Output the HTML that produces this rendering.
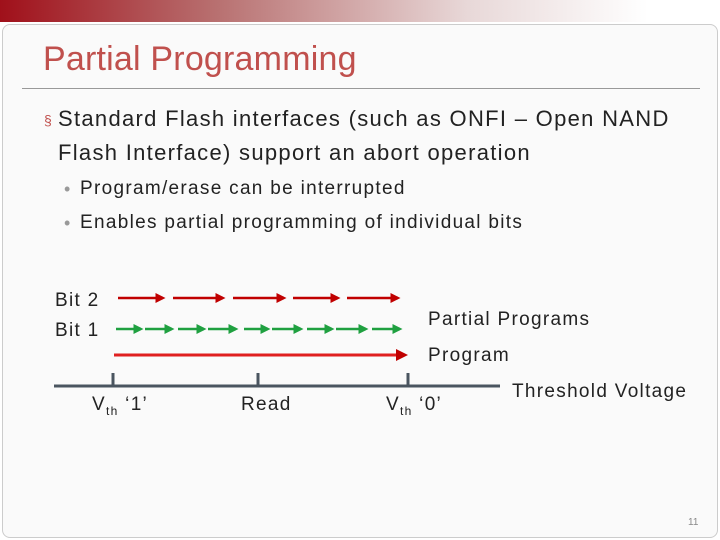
<!DOCTYPE html>
<html><head><meta charset="utf-8"><style>
body{margin:0;width:720px;height:540px;background:#fff;font-family:"Liberation Sans",sans-serif;position:relative;overflow:hidden}
.t{position:absolute;white-space:nowrap;color:#222;line-height:1}
.s{font-size:19px;letter-spacing:1.3px}
</style></head><body>
<div style="position:absolute;left:0;top:0;width:720px;height:22px;background:linear-gradient(90deg,#a0101a 0%,#b87070 30%,#e8d8d8 65%,#fff 90%)"></div>
<div style="position:absolute;left:2px;top:24px;width:714px;height:512px;border:1px solid #ccc;border-radius:8px;background:#fafafa"></div>
<div class="t" style="left:43px;top:42px;font-size:34px;color:#c0504d;letter-spacing:0.2px">Partial Programming</div>
<div style="position:absolute;left:22px;top:88px;width:678px;height:1px;background:#999"></div>
<div class="t" style="left:44px;top:113px;font-size:14px;color:#c0504d">§</div>
<div class="t" style="left:58px;top:108px;font-size:22px;letter-spacing:1.3px">Standard Flash interfaces (such as ONFI – Open NAND</div>
<div class="t" style="left:58px;top:142px;font-size:22px;letter-spacing:1.3px">Flash Interface) support an abort operation</div>
<div class="t" style="left:64px;top:180px;font-size:18px"><span style="color:#999">•</span> <span class="s" style="position:absolute;left:16px;top:-1px">Program/erase can be interrupted</span></div>
<div class="t" style="left:64px;top:214px;font-size:18px"><span style="color:#999">•</span> <span class="s" style="position:absolute;left:16px;top:-1px">Enables partial programming of individual bits</span></div>
<div class="t s" style="left:55px;top:291px">Bit 2</div>
<div class="t s" style="left:55px;top:321px">Bit 1</div>
<div class="t s" style="left:428px;top:310px">Partial Programs</div>
<div class="t s" style="left:428px;top:346px">Program</div>
<div class="t s" style="left:512px;top:382px">Threshold Voltage</div>
<div class="t s" style="left:92px;top:395px">V<sub style="font-size:12px">th</sub> ‘1’</div>
<div class="t s" style="left:241px;top:395px">Read</div>
<div class="t s" style="left:386px;top:395px">V<sub style="font-size:12px">th</sub> ‘0’</div>
<div class="t" style="left:688px;top:518px;font-size:10px;color:#888">11</div>
<svg width="720" height="540" style="position:absolute;left:0;top:0">
<defs>
<marker id="mr" markerWidth="4" markerHeight="4" refX="3" refY="2" orient="auto"><path d="M0,0L4,2L0,4z" fill="#c00000"/></marker>
<marker id="mg" markerWidth="4" markerHeight="4" refX="3" refY="2" orient="auto"><path d="M0,0L4,2L0,4z" fill="#1fa040"/></marker>
</defs>
<g id="bit2"></g>
<g id="bit1"></g>
<line x1="114" y1="355" x2="405" y2="355" stroke="#e02020" stroke-width="3" marker-end="url(#mr)"/>
<line x1="54" y1="386" x2="500" y2="386" stroke="#4a5560" stroke-width="3"/>
<line x1="113" y1="373" x2="113" y2="386" stroke="#4a5560" stroke-width="3"/>
<line x1="258" y1="373" x2="258" y2="386" stroke="#4a5560" stroke-width="3"/>
<line x1="408" y1="373" x2="408" y2="386" stroke="#4a5560" stroke-width="3"/>
</svg>
<script>
const bit2Segs=[[118,167],[173,227],[233,288],[293,342],[347,402]];
const bit1Segs=[[116,145],[145,176],[178,208],[208,240],[244,272],[272,305],[307,336],[336,370],[372,404]];
const ns="http://www.w3.org/2000/svg";
function draw(id,segs,y,col,mk){
 const g=document.getElementById(id);
 segs.forEach(s=>{const l=document.createElementNS(ns,'line');
 
 
 l.setAttribute('x1',s[0]);l.setAttribute('x2',s[1]-4);l.setAttribute('y1',y);l.setAttribute('y2',y);
 l.setAttribute('stroke',col);l.setAttribute('stroke-width','2.5');l.setAttribute('marker-end','url(#'+mk+')');g.appendChild(l);});
}
draw('bit2',bit2Segs,298,'#c00000','mr');
draw('bit1',bit1Segs,329,'#1fa040','mg');
</script>
</body></html>
